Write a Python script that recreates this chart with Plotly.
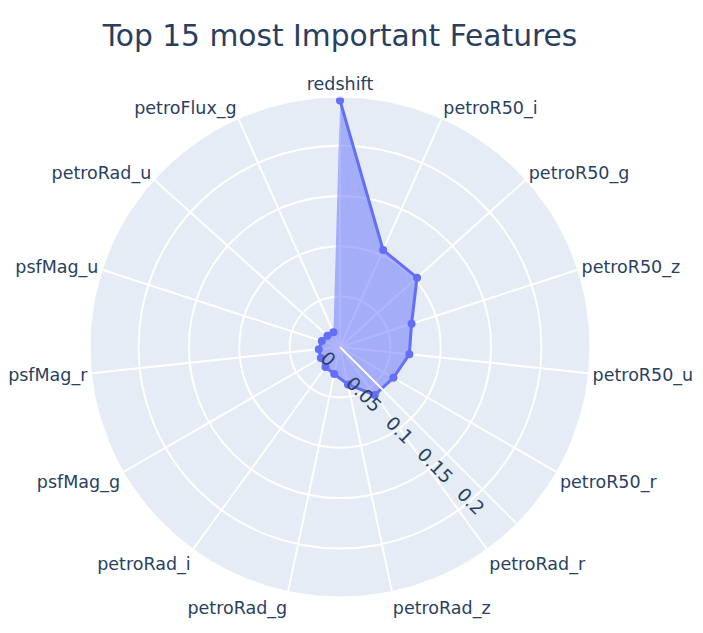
import plotly.graph_objects as go

features = ['redshift', 'petroR50_i', 'petroR50_g', 'petroR50_z', 'petroR50_u',
            'petroR50_r', 'petroRad_r', 'petroRad_z', 'petroRad_g', 'petroRad_i',
            'psfMag_g', 'psfMag_r', 'psfMag_u', 'petroRad_u', 'petroFlux_g']
importance = [0.2448, 0.1053, 0.1029, 0.0747, 0.0692,
              0.0612, 0.0588, 0.0381, 0.0275, 0.0245,
              0.0220, 0.0212, 0.0190, 0.0168, 0.0160]

fig = go.Figure()
fig.add_trace(go.Scatterpolar(r=importance, theta=features, fill='toself',
                              mode='lines+markers',
                              line=dict(width=3), marker=dict(size=8)))

fig.update_layout(
    template='plotly',
    width=703, height=633,
    margin=dict(l=82, r=121, t=89, b=44),
    font=dict(family='DejaVu Sans, Verdana, sans-serif', color='#2a3f5f'),
    title=dict(text='Top 15 most Important Features', x=0.5, xref='paper',
               y=0.957, yref='container', yanchor='middle',
               font=dict(size=29.7)),
    polar=dict(
        angularaxis=dict(direction='clockwise', rotation=90,
                         gridwidth=1.8, tickfont=dict(size=17.5)),
        radialaxis=dict(range=[0, 0.2482], angle=-45,
                        tickvals=[0, 0.05, 0.1, 0.15, 0.2],
                        gridwidth=1.8, linewidth=1.8,
                        tickfont=dict(size=18.5)),
    ),
    showlegend=False,
)

fig.write_html("out.html")
